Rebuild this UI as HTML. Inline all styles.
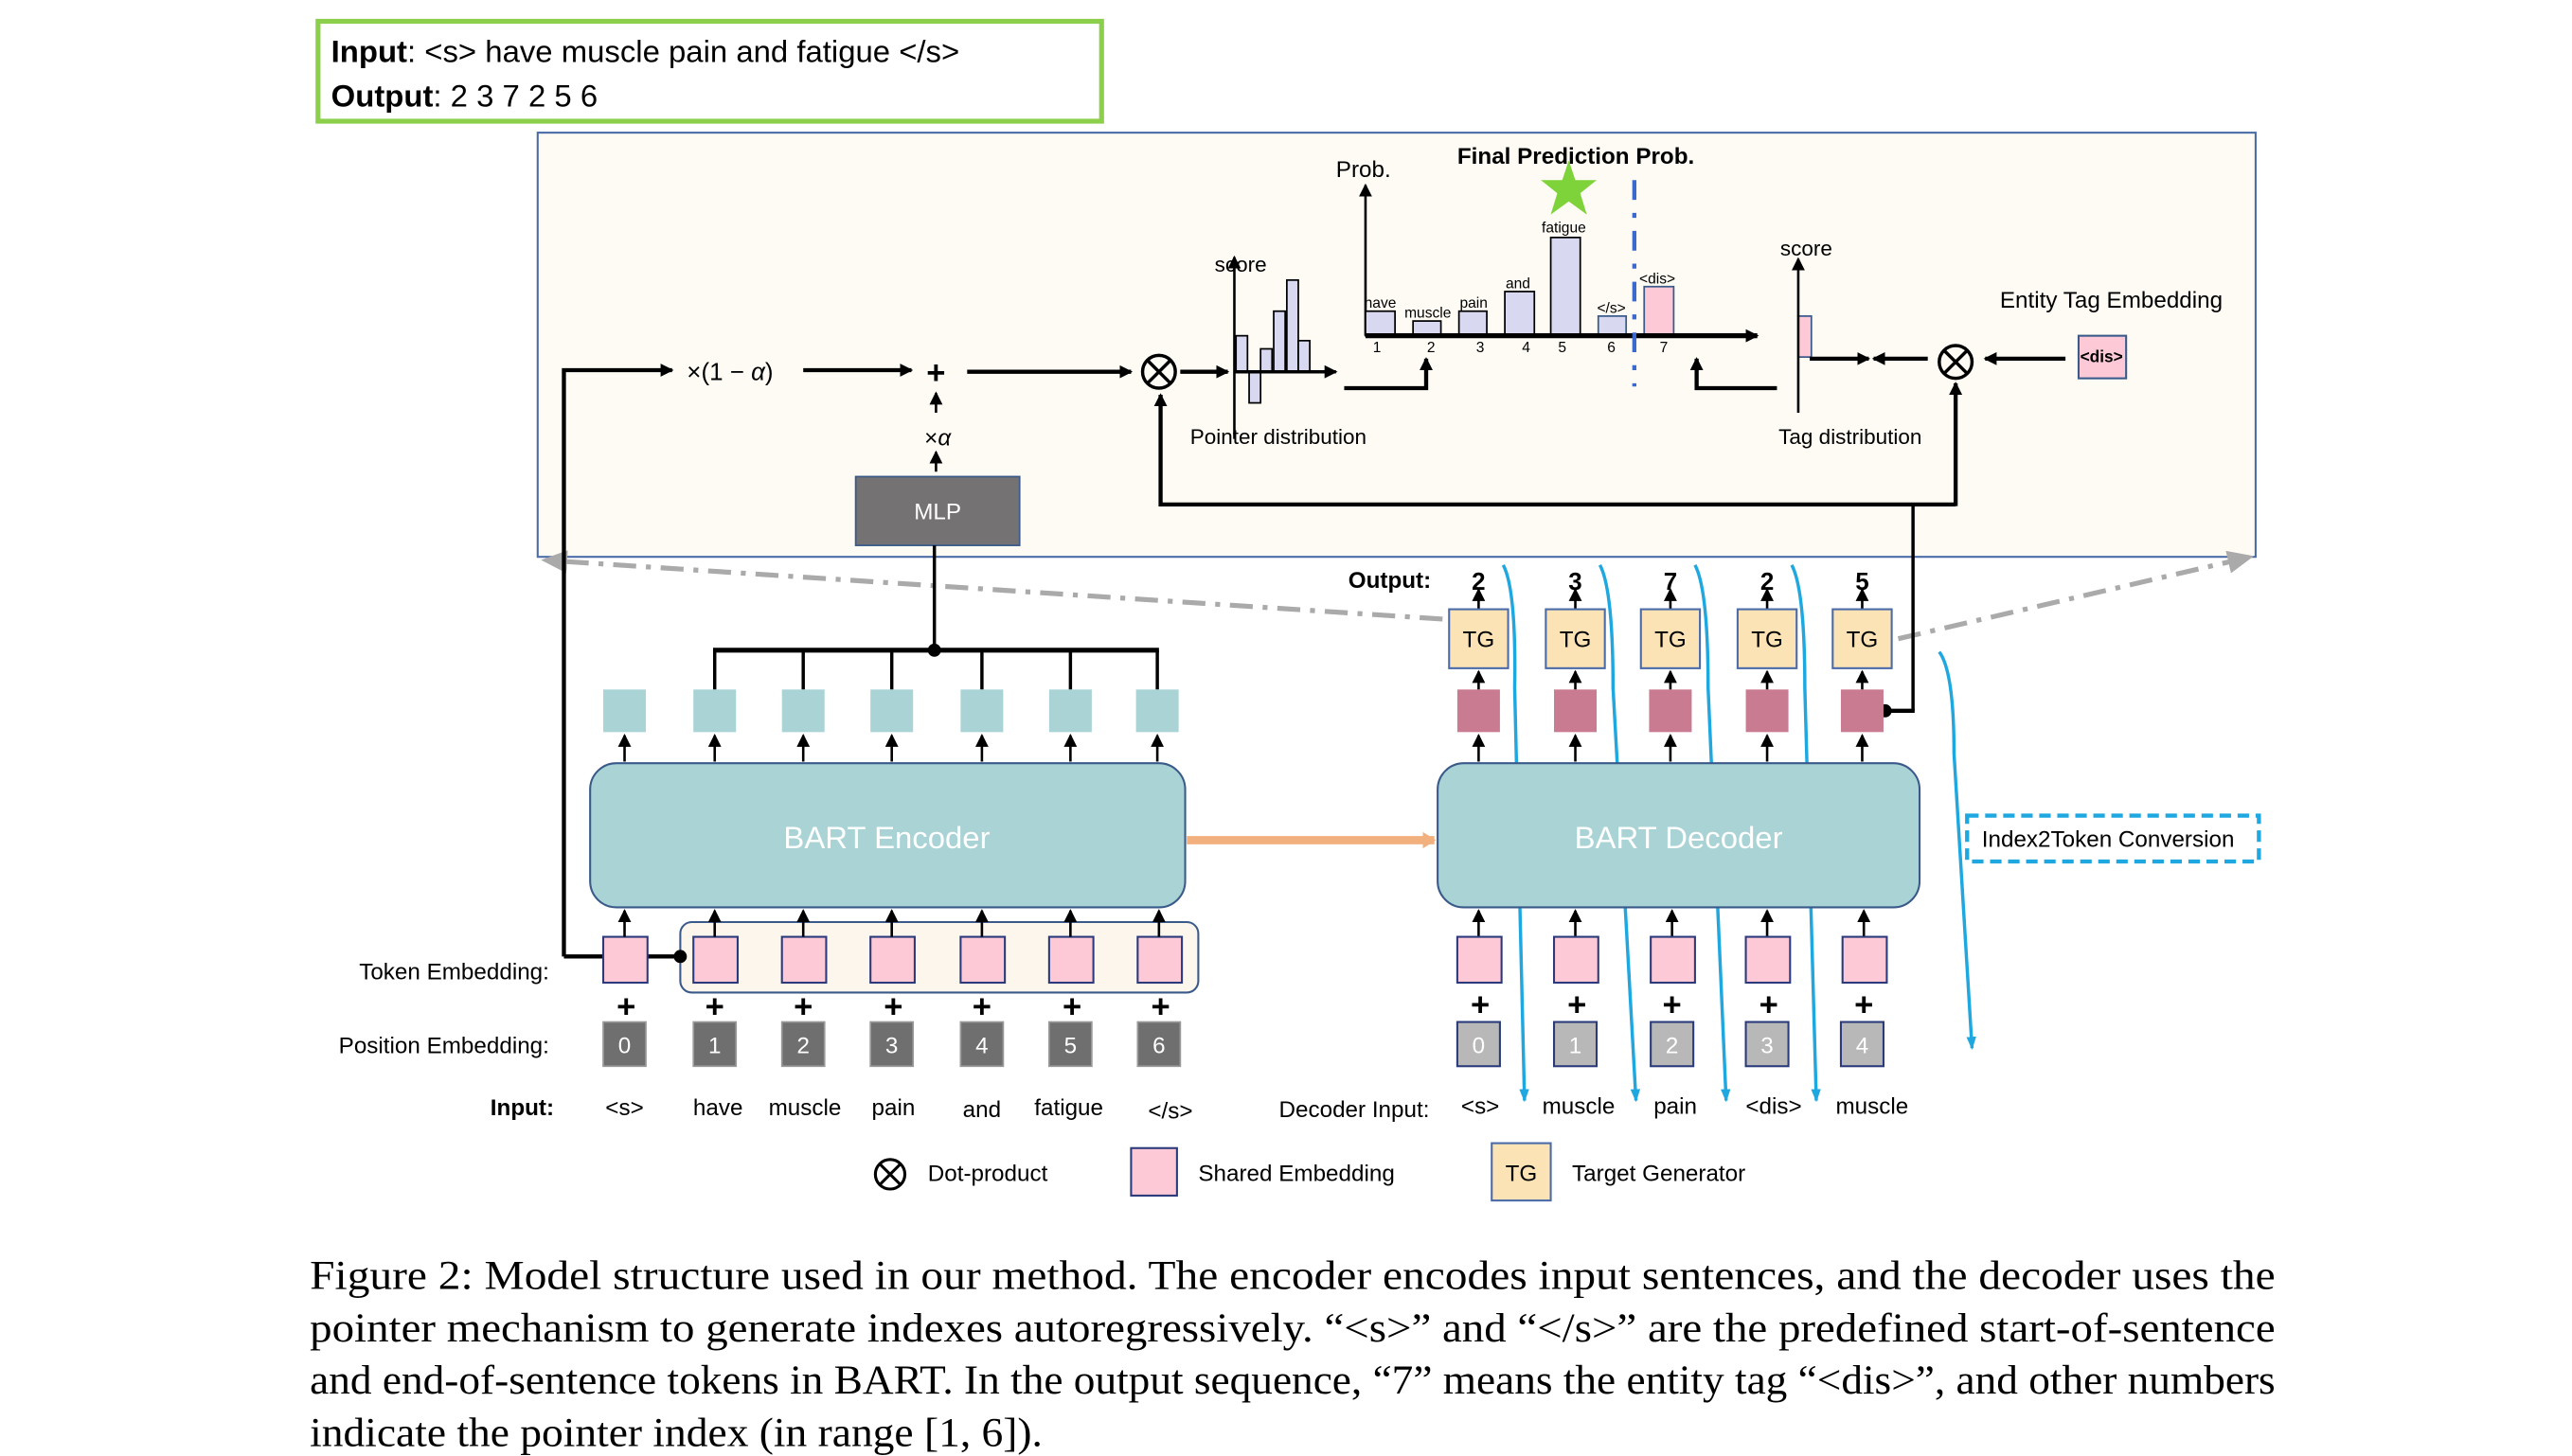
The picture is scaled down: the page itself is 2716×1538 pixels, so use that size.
<!DOCTYPE html>
<html><head><meta charset="utf-8"><style>
html,body{margin:0;padding:0;background:#fff;}
svg{display:block;}
text{font-family:"Liberation Sans",sans-serif;}
.s{font-family:"Liberation Serif",serif;}
</style></head><body>
<svg width="2716" height="1538" viewBox="0 0 1569 889" preserveAspectRatio="none" xmlns="http://www.w3.org/2000/svg">
<defs>
<marker id="a" markerWidth="8" markerHeight="8" refX="7" refY="4" orient="auto" markerUnits="userSpaceOnUse"><path d="M0,0 L8,4 L0,8 Z" fill="#000"/></marker>
<marker id="ab" markerWidth="8" markerHeight="8" refX="7" refY="4" orient="auto" markerUnits="userSpaceOnUse"><path d="M0,1 L8,4 L0,7 Z" fill="#1fa8e0"/></marker>
<marker id="ag" markerWidth="16" markerHeight="14" refX="14" refY="7" orient="auto" markerUnits="userSpaceOnUse"><path d="M0,0 L16,7 L0,14 Z" fill="#aaa"/></marker>
<marker id="ao" markerWidth="8" markerHeight="10" refX="7" refY="5" orient="auto" markerUnits="userSpaceOnUse"><path d="M0,0 L8,5 L0,10 Z" fill="#f2b07e"/></marker>
</defs>

<rect x="194" y="13" width="478" height="61" fill="#fff" stroke="#8ccf4a" stroke-width="3"/>
<text x="202" y="38" font-size="19"><tspan font-weight="bold">Input</tspan>: &lt;s&gt;  have  muscle  pain  and  fatigue  &lt;/s&gt;</text>
<text x="202" y="65" font-size="19"><tspan font-weight="bold">Output</tspan>: 2  3  7  2  5  6</text>

<rect x="328" y="81" width="1048" height="259" fill="#fdfbf3" stroke="#4a6aa8" stroke-width="1.2"/>

<line x1="880" y1="378" x2="332" y2="342" stroke="#aaa" stroke-width="3" stroke-dasharray="14,6,3,6" marker-end="url(#ag)"/>
<line x1="1158" y1="390" x2="1373" y2="340" stroke="#aaa" stroke-width="3" stroke-dasharray="14,6,3,6" marker-end="url(#ag)"/>

<polyline points="344,584 344,226 410,226" fill="none" stroke="#000" stroke-width="2.5" marker-end="url(#a)"/>
<text x="419" y="232" font-size="15">×(1 − <tspan font-style="italic">α</tspan>)</text>
<line x1="490" y1="226" x2="556" y2="226" stroke="#000" stroke-width="2.5" marker-end="url(#a)"/>
<text x="571" y="234" font-size="20" font-weight="bold" text-anchor="middle">+</text>
<line x1="590" y1="227" x2="690" y2="227" stroke="#000" stroke-width="2.5" marker-end="url(#a)"/>
<line x1="571" y1="252" x2="571" y2="240" stroke="#000" stroke-width="1.5" marker-end="url(#a)"/>
<text x="572" y="272" font-size="14" text-anchor="middle">×<tspan font-style="italic">α</tspan></text>
<line x1="571" y1="288" x2="571" y2="276" stroke="#000" stroke-width="1.5" marker-end="url(#a)"/>
<rect x="522" y="291" width="100" height="42" fill="#747272" stroke="#3a5a8a" stroke-width="1"/>
<text x="572" y="317" font-size="14" fill="#fff" text-anchor="middle">MLP</text>

<circle cx="707" cy="227" r="10" fill="none" stroke="#000" stroke-width="2"/>
<line x1="700" y1="220" x2="714" y2="234" stroke="#000" stroke-width="2"/>
<line x1="714" y1="220" x2="700" y2="234" stroke="#000" stroke-width="2"/>
<line x1="720" y1="227" x2="749" y2="227" stroke="#000" stroke-width="2.5" marker-end="url(#a)"/>

<g fill="#d8d8f0" stroke="#000" stroke-width="1">
<rect x="754" y="205" width="7" height="22"/>
<rect x="762" y="227" width="7" height="19"/>
<rect x="769" y="213" width="7" height="14"/>
<rect x="777" y="190" width="7" height="37"/>
<rect x="785" y="171" width="7" height="56"/>
<rect x="792" y="208" width="7" height="19"/>
</g>
<line x1="753" y1="268" x2="753" y2="157" stroke="#000" stroke-width="1.5" marker-end="url(#a)"/>
<line x1="753" y1="227" x2="815" y2="227" stroke="#000" stroke-width="2" marker-end="url(#a)"/>
<text x="741" y="166" font-size="13">score</text>
<text x="726" y="271" font-size="13">Pointer distribution</text>
<polyline points="820,237 870,237 870,219" fill="none" stroke="#000" stroke-width="2.5" marker-end="url(#a)"/>

<text x="889" y="100" font-size="14" font-weight="bold">Final Prediction Prob.</text>
<text x="815" y="108" font-size="14">Prob.</text>
<line x1="833" y1="205" x2="833" y2="113" stroke="#000" stroke-width="1.5" marker-end="url(#a)"/>
<g stroke="#000" stroke-width="1" fill="#d8d8f0">
<rect x="833" y="190" width="18" height="15"/>
<rect x="862" y="196" width="17" height="9"/>
<rect x="890" y="190" width="17" height="15"/>
<rect x="918" y="178" width="18" height="27"/>
<rect x="946" y="145" width="18" height="60"/>
<rect x="975" y="193" width="17" height="12" stroke="#3a5a8a"/>
<rect x="1003" y="175" width="18" height="30" fill="#fdc9d6" stroke="#3a5a8a"/>
</g>
<line x1="833" y1="205" x2="1072" y2="205" stroke="#000" stroke-width="3" marker-end="url(#a)"/>
<g font-size="9" text-anchor="middle">
<text x="842" y="188">have</text><text x="871" y="194">muscle</text><text x="899" y="188">pain</text>
<text x="926" y="176">and</text><text x="954" y="142">fatigue</text><text x="983" y="191">&lt;/s&gt;</text><text x="1011" y="173">&lt;dis&gt;</text>
<text x="840" y="215">1</text><text x="873" y="215">2</text><text x="903" y="215">3</text><text x="931" y="215">4</text><text x="953" y="215">5</text><text x="983" y="215">6</text><text x="1015" y="215">7</text>
</g>
<line x1="997" y1="110" x2="997" y2="236" stroke="#3a6ad0" stroke-width="2.5" stroke-dasharray="12,8,3,8"/>
<path d="M957,98 L961,110 L974,110 L964,118 L968,131 L957,123 L946,131 L950,118 L940,110 L953,110 Z" fill="#7ed23a"/>
<polyline points="1084,237 1035,237 1035,219" fill="none" stroke="#000" stroke-width="2.5" marker-end="url(#a)"/>

<rect x="1097" y="193" width="8" height="25" fill="#fdc9d6" stroke="#3a5a8a" stroke-width="1"/>
<line x1="1097" y1="252" x2="1097" y2="158" stroke="#000" stroke-width="1.5" marker-end="url(#a)"/>
<text x="1086" y="156" font-size="13">score</text>
<text x="1085" y="271" font-size="13">Tag distribution</text>
<line x1="1104" y1="219" x2="1140" y2="219" stroke="#000" stroke-width="2.5" marker-end="url(#a)"/>
<line x1="1176" y1="219" x2="1143" y2="219" stroke="#000" stroke-width="2.5" marker-end="url(#a)"/>
<circle cx="1193" cy="221" r="10" fill="none" stroke="#000" stroke-width="2"/>
<line x1="1186" y1="214" x2="1200" y2="228" stroke="#000" stroke-width="2"/>
<line x1="1200" y1="214" x2="1186" y2="228" stroke="#000" stroke-width="2"/>
<line x1="1260" y1="219" x2="1211" y2="219" stroke="#000" stroke-width="2.5" marker-end="url(#a)"/>
<rect x="1268" y="205" width="29" height="26" fill="#fdc9d6" stroke="#3a5a8a" stroke-width="1.2"/>
<text x="1282" y="221" font-size="10" font-weight="bold" text-anchor="middle">&lt;dis&gt;</text>
<text x="1220" y="188" font-size="14">Entity Tag Embedding</text>

<polyline points="1167,434 1167,308" fill="none" stroke="#000" stroke-width="2"/>
<polyline points="1193,308 708,308 708,241" fill="none" stroke="#000" stroke-width="2.5" marker-end="url(#a)"/>
<line x1="1193" y1="309" x2="1193" y2="234" stroke="#000" stroke-width="2.5" marker-end="url(#a)"/>
<line x1="1150" y1="434" x2="1168" y2="434" stroke="#000" stroke-width="2.5"/>
<circle cx="1150" cy="434" r="4"/>

<g fill="none" stroke="#1fa8e0" stroke-width="2" marker-end="url(#ab)">
<path d="M917,345 Q925,360 924,420 L930,672"/>
<path d="M976,345 Q984,360 984,420 L998,672"/>
<path d="M1034,345 Q1042,360 1042,420 L1053,672"/>
<path d="M1093,345 Q1101,360 1101,420 L1108,672"/>
<path d="M1183,398 Q1192,410 1192,460 L1203,640"/>
</g>

<rect x="360" y="466" width="363" height="88" rx="16" fill="#a9d3d5" stroke="#3a5a8a" stroke-width="1.2"/>
<text x="541" y="518" font-size="19" fill="#fff" text-anchor="middle">BART Encoder</text>
<rect x="877" y="466" width="294" height="88" rx="16" fill="#a9d3d5" stroke="#3a5a8a" stroke-width="1.2"/>
<text x="1024" y="518" font-size="19" fill="#fff" text-anchor="middle">BART Decoder</text>
<line x1="724" y1="513" x2="875" y2="513" stroke="#f2b07e" stroke-width="5" marker-end="url(#ao)"/>

<line x1="570" y1="333" x2="570" y2="397" stroke="#000" stroke-width="2"/>
<line x1="435" y1="397" x2="707" y2="397" stroke="#000" stroke-width="3"/>
<circle cx="570" cy="397" r="4"/>
<g stroke="#000" stroke-width="2">
<line x1="436" y1="397" x2="436" y2="421"/><line x1="490" y1="397" x2="490" y2="421"/><line x1="544" y1="397" x2="544" y2="421"/>
<line x1="599" y1="397" x2="599" y2="421"/><line x1="653" y1="397" x2="653" y2="421"/><line x1="706" y1="397" x2="706" y2="421"/>
</g>
<g fill="#a9d3d5">
<rect x="368" y="421" width="26" height="26"/><rect x="423" y="421" width="26" height="26"/><rect x="477" y="421" width="26" height="26"/>
<rect x="531" y="421" width="26" height="26"/><rect x="586" y="421" width="26" height="26"/><rect x="640" y="421" width="26" height="26"/><rect x="693" y="421" width="26" height="26"/>
</g>
<g stroke="#000" stroke-width="1.5" marker-end="url(#a)">
<line x1="381" y1="465" x2="381" y2="449"/><line x1="436" y1="465" x2="436" y2="449"/><line x1="490" y1="465" x2="490" y2="449"/>
<line x1="544" y1="465" x2="544" y2="449"/><line x1="599" y1="465" x2="599" y2="449"/><line x1="653" y1="465" x2="653" y2="449"/><line x1="706" y1="465" x2="706" y2="449"/>
</g>

<rect x="415" y="563" width="316" height="43" rx="7" fill="#fdf6ec" stroke="#3a5a8a" stroke-width="1.2"/>
<line x1="344" y1="584" x2="368" y2="584" stroke="#000" stroke-width="2.5"/>
<line x1="395" y1="584" x2="415" y2="584" stroke="#000" stroke-width="2.5"/>
<circle cx="415" cy="584" r="4"/>
<g fill="#fdc9d6" stroke="#2a3a7a" stroke-width="1.2">
<rect x="368" y="572" width="27" height="28"/><rect x="423" y="572" width="27" height="28"/><rect x="477" y="572" width="27" height="28"/>
<rect x="531" y="572" width="27" height="28"/><rect x="586" y="572" width="27" height="28"/><rect x="640" y="572" width="27" height="28"/><rect x="694" y="572" width="27" height="28"/>
</g>
<g stroke="#000" stroke-width="1.5" marker-end="url(#a)">
<line x1="381" y1="572" x2="381" y2="556"/><line x1="436" y1="572" x2="436" y2="556"/><line x1="490" y1="572" x2="490" y2="556"/>
<line x1="544" y1="572" x2="544" y2="556"/><line x1="599" y1="572" x2="599" y2="556"/><line x1="653" y1="572" x2="653" y2="556"/><line x1="707" y1="572" x2="707" y2="556"/>
</g>
<g font-size="20" font-weight="bold" text-anchor="middle">
<text x="382" y="621">+</text><text x="436" y="621">+</text><text x="490" y="621">+</text><text x="545" y="621">+</text><text x="599" y="621">+</text><text x="654" y="621">+</text><text x="708" y="621">+</text>
</g>
<g fill="#6f6f6f" stroke="#999" stroke-width="1">
<rect x="368" y="624" width="26" height="27"/><rect x="423" y="624" width="26" height="27"/><rect x="477" y="624" width="26" height="27"/>
<rect x="531" y="624" width="26" height="27"/><rect x="586" y="624" width="26" height="27"/><rect x="640" y="624" width="26" height="27"/><rect x="694" y="624" width="26" height="27"/>
</g>
<g font-size="14" fill="#fff" text-anchor="middle">
<text x="381" y="643">0</text><text x="436" y="643">1</text><text x="490" y="643">2</text><text x="544" y="643">3</text><text x="599" y="643">4</text><text x="653" y="643">5</text><text x="707" y="643">6</text>
</g>
<g font-size="14" text-anchor="middle">
<text x="381" y="681">&lt;s&gt;</text><text x="438" y="681">have</text><text x="491" y="681">muscle</text><text x="545" y="681">pain</text><text x="599" y="682">and</text><text x="652" y="681">fatigue</text><text x="714" y="683">&lt;/s&gt;</text>
</g>
<text x="335" y="598" font-size="14" text-anchor="end">Token Embedding:</text>
<text x="335" y="643" font-size="14" text-anchor="end">Position Embedding:</text>
<text x="338" y="681" font-size="14" font-weight="bold" text-anchor="end">Input:</text>
<text x="872" y="682" font-size="14" text-anchor="end">Decoder  Input:</text>

<text x="873" y="359" font-size="14" font-weight="bold" text-anchor="end">Output:</text>
<g font-size="15" font-weight="bold" text-anchor="middle">
<text x="902" y="360">2</text><text x="961" y="360">3</text><text x="1019" y="360">7</text><text x="1078" y="360">2</text><text x="1136" y="360">5</text>
</g>
<g stroke="#000" stroke-width="1.5" marker-end="url(#a)">
<line x1="902" y1="372" x2="902" y2="360"/><line x1="961" y1="372" x2="961" y2="360"/><line x1="1019" y1="372" x2="1019" y2="360"/><line x1="1078" y1="372" x2="1078" y2="360"/><line x1="1136" y1="372" x2="1136" y2="360"/>
<line x1="902" y1="421" x2="902" y2="410"/><line x1="961" y1="421" x2="961" y2="410"/><line x1="1019" y1="421" x2="1019" y2="410"/><line x1="1078" y1="421" x2="1078" y2="410"/><line x1="1136" y1="421" x2="1136" y2="410"/>
<line x1="902" y1="465" x2="902" y2="449"/><line x1="961" y1="465" x2="961" y2="449"/><line x1="1019" y1="465" x2="1019" y2="449"/><line x1="1078" y1="465" x2="1078" y2="449"/><line x1="1136" y1="465" x2="1136" y2="449"/>
<line x1="902" y1="572" x2="902" y2="556"/><line x1="961" y1="572" x2="961" y2="556"/><line x1="1020" y1="572" x2="1020" y2="556"/><line x1="1078" y1="572" x2="1078" y2="556"/><line x1="1137" y1="572" x2="1137" y2="556"/>
</g>
<g fill="#fbe3b6" stroke="#4a6aa8" stroke-width="1.2">
<rect x="884" y="372" width="36" height="36"/><rect x="943" y="372" width="36" height="36"/><rect x="1001" y="372" width="36" height="36"/><rect x="1060" y="372" width="36" height="36"/><rect x="1118" y="372" width="36" height="36"/>
</g>
<g font-size="14" text-anchor="middle">
<text x="902" y="395">TG</text><text x="961" y="395">TG</text><text x="1019" y="395">TG</text><text x="1078" y="395">TG</text><text x="1136" y="395">TG</text>
</g>
<g fill="#c97b92">
<rect x="889" y="421" width="26" height="26"/><rect x="948" y="421" width="26" height="26"/><rect x="1006" y="421" width="26" height="26"/><rect x="1065" y="421" width="26" height="26"/><rect x="1123" y="421" width="26" height="26"/>
</g>

<g fill="#fdc9d6" stroke="#2a3a7a" stroke-width="1.2">
<rect x="889" y="572" width="27" height="28"/><rect x="948" y="572" width="27" height="28"/><rect x="1007" y="572" width="27" height="28"/><rect x="1065" y="572" width="27" height="28"/><rect x="1124" y="572" width="27" height="28"/>
</g>
<g font-size="20" font-weight="bold" text-anchor="middle">
<text x="903" y="620">+</text><text x="962" y="620">+</text><text x="1020" y="620">+</text><text x="1079" y="620">+</text><text x="1137" y="620">+</text>
</g>
<g fill="#b8b8b8" stroke="#2a3a7a" stroke-width="1.2">
<rect x="889" y="624" width="26" height="27"/><rect x="948" y="624" width="26" height="27"/><rect x="1007" y="624" width="26" height="27"/><rect x="1065" y="624" width="26" height="27"/><rect x="1123" y="624" width="26" height="27"/>
</g>
<g font-size="14" fill="#fff" text-anchor="middle">
<text x="902" y="643">0</text><text x="961" y="643">1</text><text x="1020" y="643">2</text><text x="1078" y="643">3</text><text x="1136" y="643">4</text>
</g>
<g font-size="14" text-anchor="middle">
<text x="903" y="680">&lt;s&gt;</text><text x="963" y="680">muscle</text><text x="1022" y="680">pain</text><text x="1082" y="680">&lt;dis&gt;</text><text x="1142" y="680">muscle</text>
</g>

<rect x="1200" y="498" width="178" height="28" fill="#fff" stroke="#1fa8e0" stroke-width="2.5" stroke-dasharray="7,4"/>
<text x="1286" y="517" font-size="14" text-anchor="middle">Index2Token Conversion</text>

<circle cx="543" cy="717" r="9" fill="none" stroke="#000" stroke-width="1.8"/>
<line x1="537" y1="711" x2="549" y2="723" stroke="#000" stroke-width="1.8"/>
<line x1="549" y1="711" x2="537" y2="723" stroke="#000" stroke-width="1.8"/>
<text x="566" y="721" font-size="14">Dot-product</text>
<rect x="690" y="701" width="28" height="29" fill="#fdc9d6" stroke="#2a3a7a" stroke-width="1.2"/>
<text x="731" y="721" font-size="14">Shared Embedding</text>
<rect x="910" y="698" width="36" height="35" fill="#fbe3b6" stroke="#4a6aa8" stroke-width="1.2"/>
<text x="928" y="721" font-size="14" text-anchor="middle">TG</text>
<text x="959" y="721" font-size="14">Target Generator</text>

<g font-size="25">
<text class="s" x="189" y="787" textLength="1199" lengthAdjust="spacingAndGlyphs">Figure 2:  Model structure used in our method.  The encoder encodes input sentences, and the decoder uses the</text>
<text class="s" x="189" y="819" textLength="1199" lengthAdjust="spacingAndGlyphs">pointer mechanism to generate indexes autoregressively. “&lt;s&gt;” and “&lt;/s&gt;” are the predefined start-of-sentence</text>
<text class="s" x="189" y="851" textLength="1199" lengthAdjust="spacingAndGlyphs">and end-of-sentence tokens in BART. In the output sequence, “7” means the entity tag “&lt;dis&gt;”, and other numbers</text>
<text class="s" x="189" y="883" textLength="447" lengthAdjust="spacingAndGlyphs">indicate the pointer index (in range [1, 6]).</text>
</g>
</svg>
</body></html>
